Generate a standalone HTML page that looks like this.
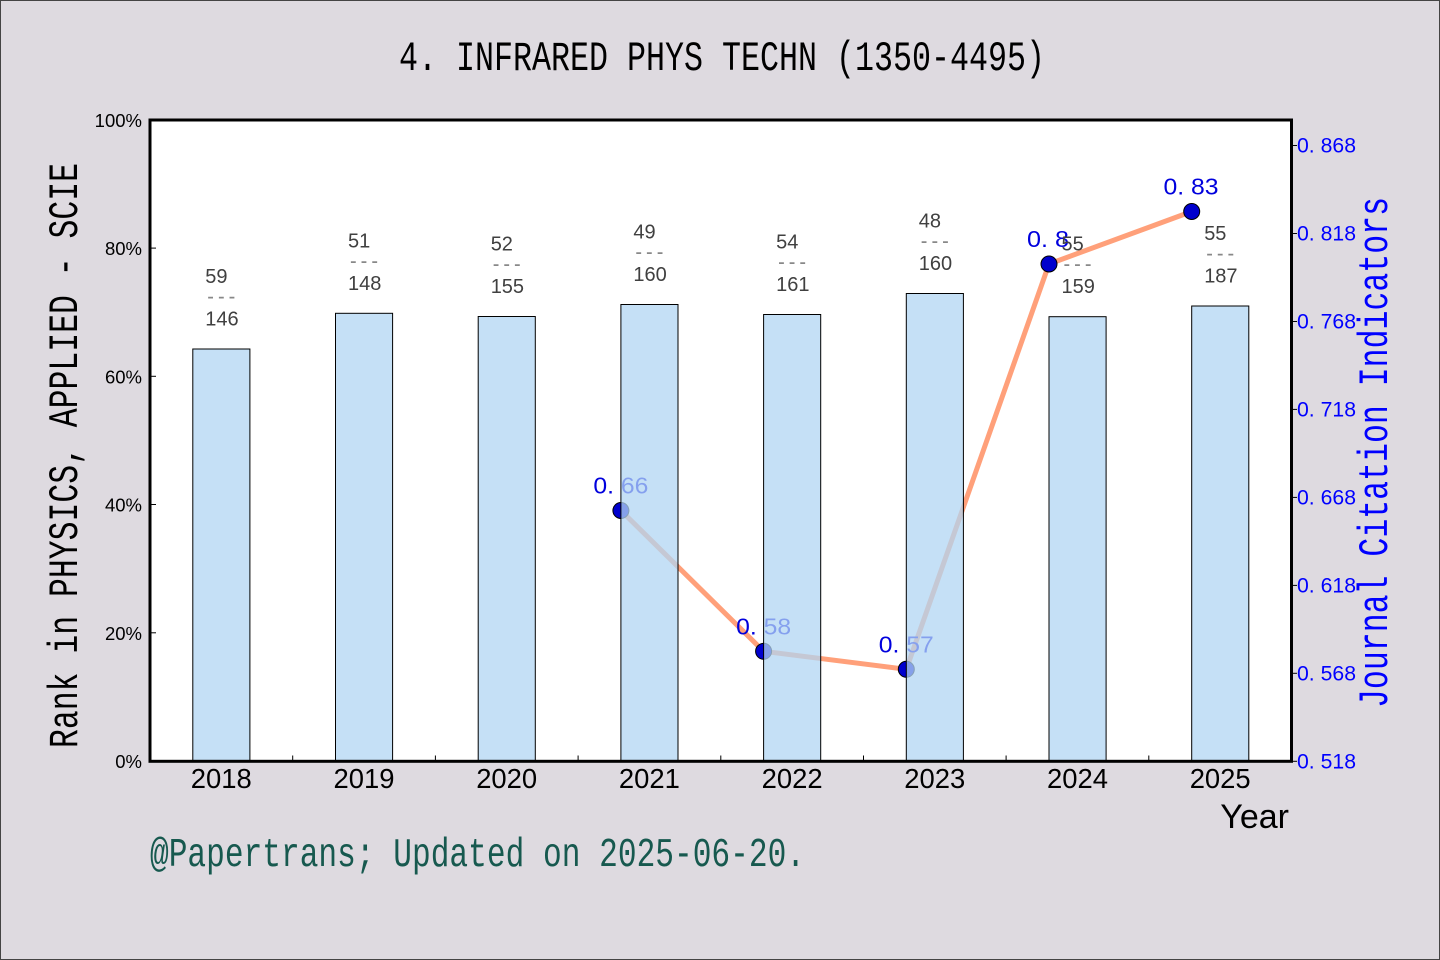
<!DOCTYPE html>
<html>
<head>
<meta charset="utf-8">
<style>
  html,body{margin:0;padding:0;background:#dedae0;}
  svg{display:block;}
  text{font-family:"Liberation Sans","Noto Sans CJK SC",sans-serif;}
  .m{font-family:"Liberation Mono","Noto Sans CJK SC",monospace;}
</style>
</head>
<body>
<svg width="1440" height="960" viewBox="0 0 1440 960" xmlns="http://www.w3.org/2000/svg">
  <rect x="0" y="0" width="1440" height="960" fill="#dedae0"/>
  <rect x="0.5" y="0.5" width="1439" height="959" fill="none" stroke="#444" stroke-width="1"/>

  <!-- plot area -->
  <rect x="150" y="120" width="1141.5" height="641.3" fill="#ffffff"/>

  <!-- title -->
  <text class="m" x="399" y="70" font-size="42" textLength="646" lengthAdjust="spacingAndGlyphs" fill="#000">4. INFRARED PHYS TECHN (1350-4495)</text>

  <!-- JCI line (drawn under bars) -->
  <polyline points="620.9,510.5 763.6,651.3 906.3,669.3 1049,264 1191.7,211.5" fill="none" stroke="#ffa07a" stroke-width="5" stroke-linejoin="round"/>
  <g fill="#0000cd" stroke="#000" stroke-width="1">
    <circle cx="620.9" cy="510.5" r="8"/>
    <circle cx="763.6" cy="651.3" r="8"/>
    <circle cx="906.3" cy="669.3" r="8"/>
    <circle cx="1049" cy="264" r="8"/>
    <circle cx="1191.7" cy="211.5" r="8"/>
  </g>
  <g fill="#0000dd" font-size="23" text-anchor="middle">
    <text x="620.9" y="493.5" textLength="55" lengthAdjust="spacingAndGlyphs">0. 66</text>
    <text x="763.6" y="634.3" textLength="55" lengthAdjust="spacingAndGlyphs">0. 58</text>
    <text x="906.3" y="652.3" textLength="55" lengthAdjust="spacingAndGlyphs">0. 57</text>
    <text x="1048" y="247" textLength="42" lengthAdjust="spacingAndGlyphs">0. 8</text>
    <text x="1191" y="194.5" textLength="55" lengthAdjust="spacingAndGlyphs">0. 83</text>
  </g>

  <!-- bars -->
  <g fill="rgb(178,214,243)" fill-opacity="0.75" stroke="#000" stroke-width="1">
    <rect x="192.8" y="349" width="57.1" height="412.3"/>
    <rect x="335.5" y="313.3" width="57.1" height="448"/>
    <rect x="478.2" y="316.5" width="57.1" height="444.8"/>
    <rect x="620.9" y="304.5" width="57.1" height="456.8"/>
    <rect x="763.6" y="314.5" width="57.1" height="446.8"/>
    <rect x="906.3" y="293.5" width="57.1" height="467.8"/>
    <rect x="1049" y="316.7" width="57.1" height="444.6"/>
    <rect x="1191.7" y="306" width="57.1" height="455.3"/>
  </g>

  <!-- bar labels -->
  <g font-size="20" fill="#404040">
    <text x="205.3" y="283">59</text><text x="205.3" y="325.5">146</text>
    <text x="348" y="247.3">51</text><text x="348" y="289.8">148</text>
    <text x="490.7" y="250.5">52</text><text x="490.7" y="293">155</text>
    <text x="633.4" y="238.5">49</text><text x="633.4" y="281">160</text>
    <text x="776.1" y="248.5">54</text><text x="776.1" y="291">161</text>
    <text x="918.8" y="227.5">48</text><text x="918.8" y="270">160</text>
    <text x="1061.5" y="250.7">55</text><text x="1061.5" y="293.2">159</text>
    <text x="1204.2" y="240">55</text><text x="1204.2" y="282.5">187</text>
  </g>
  <g font-size="22" fill="#888">
    <text class="m" x="205.3" y="303.5" textLength="32" lengthAdjust="spacingAndGlyphs">---</text>
    <text class="m" x="348" y="267.8" textLength="32" lengthAdjust="spacingAndGlyphs">---</text>
    <text class="m" x="490.7" y="271" textLength="32" lengthAdjust="spacingAndGlyphs">---</text>
    <text class="m" x="633.4" y="259" textLength="32" lengthAdjust="spacingAndGlyphs">---</text>
    <text class="m" x="776.1" y="269" textLength="32" lengthAdjust="spacingAndGlyphs">---</text>
    <text class="m" x="918.8" y="248" textLength="32" lengthAdjust="spacingAndGlyphs">---</text>
    <text class="m" x="1061.5" y="271.2" textLength="32" lengthAdjust="spacingAndGlyphs">---</text>
    <text class="m" x="1204.2" y="260.5" textLength="32" lengthAdjust="spacingAndGlyphs">---</text>
  </g>

  <!-- bottom minor ticks -->
  <g stroke="#000" stroke-width="1">
    <line x1="292.7" y1="761" x2="292.7" y2="755.5"/>
    <line x1="435.4" y1="761" x2="435.4" y2="755.5"/>
    <line x1="578.1" y1="761" x2="578.1" y2="755.5"/>
    <line x1="720.8" y1="761" x2="720.8" y2="755.5"/>
    <line x1="863.5" y1="761" x2="863.5" y2="755.5"/>
    <line x1="1006.1" y1="761" x2="1006.1" y2="755.5"/>
    <line x1="1148.8" y1="761" x2="1148.8" y2="755.5"/>
  </g>

  <!-- left ticks -->
  <g stroke="#000" stroke-width="1">
    <line x1="150" y1="632.8" x2="156" y2="632.8"/>
    <line x1="150" y1="504.5" x2="156" y2="504.5"/>
    <line x1="150" y1="376.3" x2="156" y2="376.3"/>
    <line x1="150" y1="248.1" x2="156" y2="248.1"/>
  </g>
  <!-- right ticks -->
  <g stroke="#000" stroke-width="1">
    <line x1="1291.5" y1="761.3" x2="1297" y2="761.3"/>
    <line x1="1291.5" y1="673.3" x2="1297" y2="673.3"/>
    <line x1="1291.5" y1="585.4" x2="1297" y2="585.4"/>
    <line x1="1291.5" y1="497.4" x2="1297" y2="497.4"/>
    <line x1="1291.5" y1="409.4" x2="1297" y2="409.4"/>
    <line x1="1291.5" y1="321.5" x2="1297" y2="321.5"/>
    <line x1="1291.5" y1="233.5" x2="1297" y2="233.5"/>
    <line x1="1291.5" y1="145.5" x2="1297" y2="145.5"/>
  </g>

  <!-- spines -->
  <rect x="150" y="120" width="1141.5" height="641.3" fill="none" stroke="#000" stroke-width="3"/>

  <!-- left tick labels -->
  <g font-size="18.5" fill="#000" text-anchor="end">
    <text x="142" y="768">0%</text>
    <text x="142" y="639.8">20%</text>
    <text x="142" y="511.5">40%</text>
    <text x="142" y="383.3">60%</text>
    <text x="142" y="255.1">80%</text>
    <text x="142" y="127">100%</text>
  </g>

  <!-- right tick labels -->
  <g font-size="21.5" fill="#0000ff">
    <text x="1297" y="768.5" textLength="59" lengthAdjust="spacingAndGlyphs">0. 518</text>
    <text x="1297" y="680.5" textLength="59" lengthAdjust="spacingAndGlyphs">0. 568</text>
    <text x="1297" y="592.6" textLength="59" lengthAdjust="spacingAndGlyphs">0. 618</text>
    <text x="1297" y="504.6" textLength="59" lengthAdjust="spacingAndGlyphs">0. 668</text>
    <text x="1297" y="416.6" textLength="59" lengthAdjust="spacingAndGlyphs">0. 718</text>
    <text x="1297" y="328.7" textLength="59" lengthAdjust="spacingAndGlyphs">0. 768</text>
    <text x="1297" y="240.7" textLength="59" lengthAdjust="spacingAndGlyphs">0. 818</text>
    <text x="1297" y="152.7" textLength="59" lengthAdjust="spacingAndGlyphs">0. 868</text>
  </g>

  <!-- x tick labels -->
  <g font-size="28" fill="#000" text-anchor="middle">
    <text x="221.3" y="788" textLength="61" lengthAdjust="spacingAndGlyphs">2018</text>
    <text x="364" y="788" textLength="61" lengthAdjust="spacingAndGlyphs">2019</text>
    <text x="506.7" y="788" textLength="61" lengthAdjust="spacingAndGlyphs">2020</text>
    <text x="649.4" y="788" textLength="61" lengthAdjust="spacingAndGlyphs">2021</text>
    <text x="792.1" y="788" textLength="61" lengthAdjust="spacingAndGlyphs">2022</text>
    <text x="934.8" y="788" textLength="61" lengthAdjust="spacingAndGlyphs">2023</text>
    <text x="1077.5" y="788" textLength="61" lengthAdjust="spacingAndGlyphs">2024</text>
    <text x="1220.2" y="788" textLength="61" lengthAdjust="spacingAndGlyphs">2025</text>
  </g>

  <!-- axis labels -->
  <text x="1289" y="828" font-size="34" text-anchor="end" fill="#000">Year</text>
  <text class="m" transform="translate(77,455.5) rotate(-90)" x="0" y="0" font-size="42" text-anchor="middle" textLength="585" lengthAdjust="spacingAndGlyphs" fill="#000">Rank in PHYSICS, APPLIED - SCIE</text>
  <text class="m" transform="translate(1387,452.5) rotate(-90)" x="0" y="0" font-size="42" text-anchor="middle" textLength="511" lengthAdjust="spacingAndGlyphs" fill="#0000ff">Journal Citation Indicators</text>

  <!-- footer -->
  <text class="m" x="150" y="866" font-size="41" textLength="655" lengthAdjust="spacingAndGlyphs" fill="#17594f">@Papertrans; Updated on 2025-06-20.</text>
</svg>
</body>
</html>
